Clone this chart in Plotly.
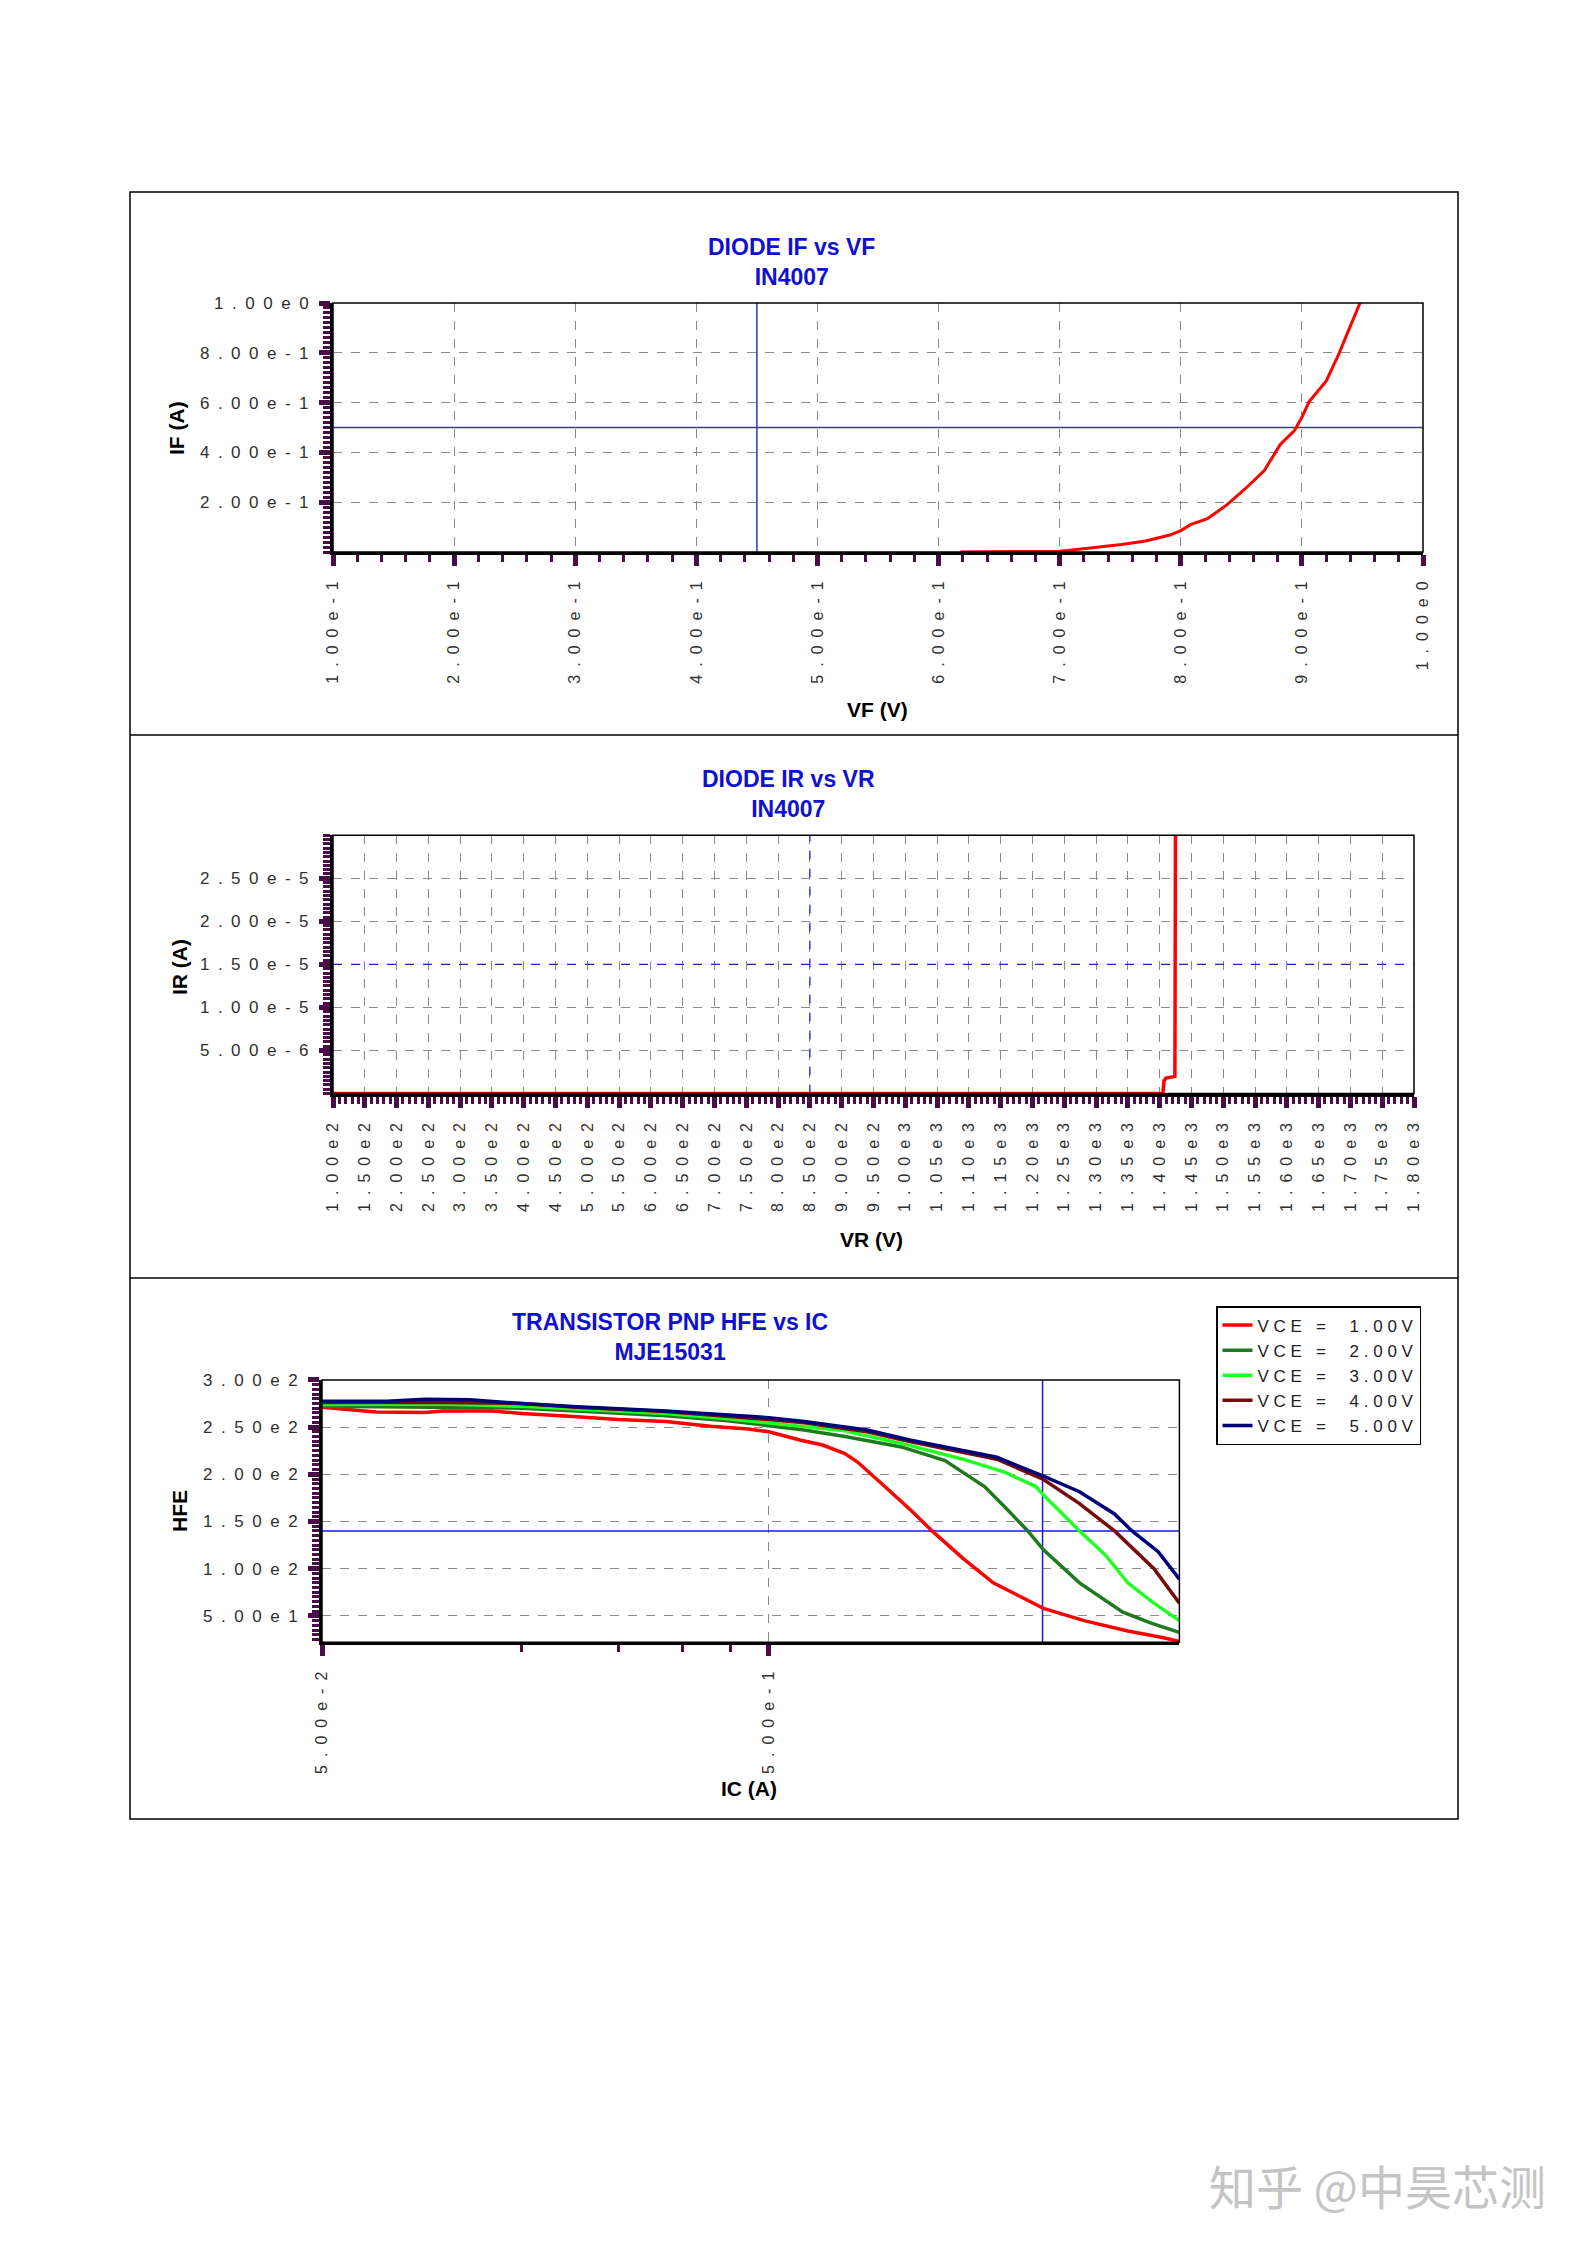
import plotly.graph_objects as go

# ---------------- data ----------------
# Panel 1: diode forward characteristic
vf = [0.618, 0.700, 0.714, 0.731, 0.751, 0.771, 0.791, 0.800, 0.808, 0.822, 0.838,
      0.855, 0.869, 0.882, 0.894, 0.900, 0.906, 0.920, 0.930, 0.940, 0.948]
i_f = [0.0, 0.003, 0.010, 0.019, 0.030, 0.044, 0.068, 0.086, 0.110, 0.134, 0.189,
       0.262, 0.327, 0.431, 0.489, 0.541, 0.604, 0.686, 0.790, 0.907, 1.0]
vf_cursor = 0.45
if_cursor = 0.5

# Panel 2: diode reverse characteristic
vr = [100, 1405, 1407, 1410, 1424, 1425]
i_r = [0.0, 0.0, 1.5e-6, 1.8e-6, 2.0e-6, 3.5e-5]
vr_cursor = 850
ir_cursor = 1.5e-5

# Panel 3: transistor HFE vs IC
ic_1v = [0.05, 0.066, 0.085, 0.093, 0.12, 0.14, 0.186, 0.23, 0.294, 0.37, 0.45, 0.50,
         0.59, 0.66, 0.74, 0.79, 0.89, 1.04, 1.16, 1.36, 1.59, 1.86, 2.06, 2.54, 3.18, 3.80, 4.15]
hfe_1v = [271, 266, 265.5, 267, 267, 264.5, 261, 258, 256, 251, 248, 245,
          236, 231, 222, 213, 191, 162, 140, 111, 85, 69, 58, 45, 34, 27, 23]
ic_2v = [0.05, 0.093, 0.14, 0.186, 0.294, 0.40, 0.50, 0.60, 0.74, 0.99, 1.24, 1.52,
         1.69, 1.90, 2.06, 2.48, 3.10, 3.60, 4.15]
hfe_2v = [272, 271, 270, 267, 262, 257, 252, 247, 240, 229, 214.5, 187,
          165, 140, 120, 85, 54, 42, 32.5]
ic_3v = [0.05, 0.093, 0.14, 0.186, 0.294, 0.40, 0.50, 0.60, 0.74, 0.99, 1.36, 1.69,
         1.98, 2.06, 2.48, 2.84, 3.18, 3.60, 4.15]
hfe_3v = [274, 274.5, 272, 269, 264.5, 259, 254.5, 251, 246, 232.7, 216, 202,
          187, 178, 140, 114, 85, 65, 45]
ic_4v = [0.05, 0.093, 0.14, 0.186, 0.294, 0.40, 0.50, 0.60, 0.83, 1.04, 1.30, 1.62,
         2.06, 2.48, 2.97, 3.64, 4.15]
hfe_4v = [276, 276, 275, 271, 266.5, 262, 258, 254.5, 245, 234.5, 225, 216,
          194.5, 169, 140, 100, 63.5]
ic_5v = [0.05, 0.07, 0.085, 0.107, 0.14, 0.186, 0.294, 0.40, 0.50, 0.60, 0.83, 1.04,
         1.62, 2.06, 2.48, 2.97, 3.25, 3.72, 4.15]
hfe_5v = [277.5, 277.5, 279.5, 279, 275, 271.5, 267, 263, 260, 256, 247, 236,
          218, 198, 181.5, 158, 140, 118, 89]
ic_cursor = 2.05
hfe_cursor = 140

series_names = ["VCE =  1.00V", "VCE =  2.00V", "VCE =  3.00V", "VCE =  4.00V", "VCE =  5.00V"]
series_colors = ["#ff0000", "#1f7a1f", "#22ff22", "#7a0a0a", "#00007a"]

# tick values / labels
p1_xticks = [0.1, 0.2, 0.3, 0.4, 0.5, 0.6, 0.7, 0.8, 0.9, 1.0]
p1_xlabels = ["1.00e-1", "2.00e-1", "3.00e-1", "4.00e-1", "5.00e-1", "6.00e-1",
              "7.00e-1", "8.00e-1", "9.00e-1", "1.00e0"]
p1_yticks = [0.2, 0.4, 0.6, 0.8, 1.0]
p1_ylabels = ["2.00e-1", "4.00e-1", "6.00e-1", "8.00e-1", "1.00e0"]

p2_xticks = [100, 150, 200, 250, 300, 350, 400, 450, 500, 550, 600, 650, 700, 750, 800,
             850, 900, 950, 1000, 1050, 1100, 1150, 1200, 1250, 1300, 1350, 1400, 1450,
             1500, 1550, 1600, 1650, 1700, 1750, 1800]
p2_xlabels = ["1.00e2", "1.50e2", "2.00e2", "2.50e2", "3.00e2", "3.50e2", "4.00e2",
              "4.50e2", "5.00e2", "5.50e2", "6.00e2", "6.50e2", "7.00e2", "7.50e2",
              "8.00e2", "8.50e2", "9.00e2", "9.50e2", "1.00e3", "1.05e3", "1.10e3",
              "1.15e3", "1.20e3", "1.25e3", "1.30e3", "1.35e3", "1.40e3", "1.45e3",
              "1.50e3", "1.55e3", "1.60e3", "1.65e3", "1.70e3", "1.75e3", "1.80e3"]
p2_yticks = [5e-6, 1e-5, 1.5e-5, 2e-5, 2.5e-5]
p2_ylabels = ["5.00e-6", "1.00e-5", "1.50e-5", "2.00e-5", "2.50e-5"]

p3_xticks = [0.05, 0.5]
p3_xlabels = ["5.00e-2", "5.00e-1"]
p3_xminor = [0.14, 0.23, 0.32, 0.41]
p3_yticks = [50, 100, 150, 200, 250, 300]
p3_ylabels = ["5.00e1", "1.00e2", "1.50e2", "2.00e2", "2.50e2", "3.00e2"]

# ---------------- styling helpers ----------------
W, H = 1587, 2245
TICK_C = "#4a0d4a"
TXT_FONT = "Liberation Sans, Arial, sans-serif"
TITLE_FONT = "Liberation Sans Narrow, Arial Narrow, Liberation Sans, Arial, sans-serif"
BLUE = "#1010d0"


def px(x):
    return x / W


def py(y):
    return 1 - y / H


def spaced(s, sep="\u2002"):
    return sep.join("\u00a0" if ch == " " else ch for ch in s)


def axis(**kw):
    d = dict(showline=True, linecolor="black", linewidth=3, mirror=False,
             ticks="outside", ticklen=11, tickwidth=5, tickcolor=TICK_C,
             showgrid=True, gridcolor="#8a8a8a", griddash="dash", gridwidth=1,
             zeroline=False, tickmode="array", fixedrange=True, automargin=False,
             tickfont=dict(family=TXT_FONT, size=16, color="#303030"))
    d.update(kw)
    return d


def xaxis(**kw):
    return axis(ticklabelstandoff=9, tickangle=-90, **kw)


def yaxis(**kw):
    return axis(ticklabelstandoff=7,
                tickfont=dict(family=TXT_FONT, size=17, color="#303030"), **kw)


def minor(**kw):
    d = dict(ticks="outside", ticklen=7, tickwidth=3, tickcolor=TICK_C, showgrid=False)
    d.update(kw)
    return d


fig = go.Figure()

# ---- Panel 1 ----
fig.add_trace(go.Scatter(x=[vf_cursor, vf_cursor], y=[0, 1.0], mode="lines",
                         line=dict(color="#3030d0", width=1.5), showlegend=False,
                         hoverinfo="skip", xaxis="x", yaxis="y"))
fig.add_trace(go.Scatter(x=[0.1, 1.0], y=[if_cursor, if_cursor], mode="lines",
                         line=dict(color="#3030d0", width=1.5), showlegend=False,
                         hoverinfo="skip", xaxis="x", yaxis="y"))
fig.add_trace(go.Scatter(x=vf, y=i_f, mode="lines", line=dict(color="#ff0000", width=3),
                         showlegend=False, xaxis="x", yaxis="y"))

# ---- Panel 2 ----
fig.add_trace(go.Scatter(x=[vr_cursor, vr_cursor], y=[0, 3e-5], mode="lines",
                         line=dict(color="#2020c0", width=1.2, dash="dash"), showlegend=False,
                         hoverinfo="skip", xaxis="x2", yaxis="y2"))
fig.add_trace(go.Scatter(x=[100, 1800], y=[ir_cursor, ir_cursor], mode="lines",
                         line=dict(color="#2020c0", width=1.2, dash="dash"), showlegend=False,
                         hoverinfo="skip", xaxis="x2", yaxis="y2"))
fig.add_trace(go.Scatter(x=vr, y=i_r, mode="lines", line=dict(color="#ff0000", width=3.5),
                         showlegend=False, xaxis="x2", yaxis="y2"))

# ---- Panel 3 ----
fig.add_trace(go.Scatter(x=[ic_cursor, ic_cursor], y=[22, 300], mode="lines",
                         line=dict(color="#1a1ae0", width=1.5), showlegend=False,
                         hoverinfo="skip", xaxis="x3", yaxis="y3"))
fig.add_trace(go.Scatter(x=[0.05, 4.15], y=[hfe_cursor, hfe_cursor], mode="lines",
                         line=dict(color="#1a1ae0", width=1.5), showlegend=False,
                         hoverinfo="skip", xaxis="x3", yaxis="y3"))
ic_all = [ic_1v, ic_2v, ic_3v, ic_4v, ic_5v]
hfe_all = [hfe_1v, hfe_2v, hfe_3v, hfe_4v, hfe_5v]
for name, col, xs, ys in zip(series_names, series_colors, ic_all, hfe_all):
    fig.add_trace(go.Scatter(x=xs, y=ys, mode="lines", name=spaced(name, "\u00a0"),
                             line=dict(color=col, width=3.5), xaxis="x3", yaxis="y3"))

fig.update_layout(
    width=W, height=H, paper_bgcolor="white", plot_bgcolor="white",
    margin=dict(l=0, r=0, t=0, b=0, pad=0, autoexpand=False),
    showlegend=True,
    legend=dict(x=px(1216), y=py(1306), xanchor="left", yanchor="top",
                bgcolor="white", bordercolor="black", borderwidth=1.5,
                font=dict(family=TXT_FONT, size=17, color="#222222"),
                itemwidth=30, tracegroupgap=0),
    xaxis=xaxis(domain=[px(333), px(1423)], range=[0.1, 1.0], anchor="y",
                tickvals=p1_xticks, ticktext=[spaced(s) for s in p1_xlabels],
                minor=minor(tickmode="linear", tick0=0.1, dtick=0.02)),
    yaxis=yaxis(domain=[py(552), py(303)], range=[0, 1.0], anchor="x",
                tickvals=p1_yticks, ticktext=[spaced(s) for s in p1_ylabels],
                minor=minor(tickmode="linear", tick0=0, dtick=0.02)),
    xaxis2=xaxis(domain=[px(333), px(1414)], range=[100, 1800], anchor="y2",
                 tickvals=p2_xticks, ticktext=[spaced(s) for s in p2_xlabels],
                 minor=minor(tickmode="linear", tick0=100, dtick=10)),
    yaxis2=yaxis(domain=[py(1093.6), py(835.2)], range=[0, 3e-5], anchor="x2",
                 tickvals=p2_yticks, ticktext=[spaced(s) for s in p2_ylabels],
                 minor=minor(tickmode="linear", tick0=0, dtick=5e-7)),
    xaxis3=xaxis(domain=[px(322), px(1179.4)], type="log", anchor="y3",
                 range=[-1.30103, 0.61805],
                 tickvals=p3_xticks, ticktext=[spaced(s) for s in p3_xlabels],
                 minor=minor(tickmode="array", tickvals=p3_xminor)),
    yaxis3=yaxis(domain=[py(1642.3), py(1379.9)], range=[22, 300], anchor="x3",
                 tickvals=p3_yticks, ticktext=[spaced(s) for s in p3_ylabels],
                 minor=minor(tickmode="linear", tick0=0, dtick=5)),
)

shapes = []
# outer frame and dividers
shapes.append(dict(type="rect", xref="paper", yref="paper", x0=px(130), x1=px(1458),
                   y0=py(1819), y1=py(192), line=dict(color="black", width=1.5)))
for yy in [735, 1278]:
    shapes.append(dict(type="line", xref="paper", yref="paper", x0=px(130), x1=px(1458),
                       y0=py(yy), y1=py(yy), line=dict(color="black", width=1.5)))
# plot boxes
for ax in ["", "2", "3"]:
    shapes.append(dict(type="rect", xref="x%s domain" % ax, yref="y%s domain" % ax,
                       x0=0, x1=1, y0=0, y1=1, line=dict(color="black", width=1.5)))
fig.update_layout(shapes=shapes)

ann = []


def title(text, x, y):
    ann.append(dict(text=text, x=px(x), y=py(y), xref="paper", yref="paper",
                    xanchor="center", yanchor="middle", showarrow=False, align="center",
                    font=dict(family=TITLE_FONT, size=23, color=BLUE)))


def label(text, x, y, angle=0):
    ann.append(dict(text="<b>%s</b>" % text, x=px(x), y=py(y), xref="paper", yref="paper",
                    xanchor="center", yanchor="middle", showarrow=False, textangle=angle,
                    font=dict(family=TITLE_FONT, size=21, color="black")))


title("<b>DIODE IF vs VF</b><br><b>IN4007</b>", 791, 262)
title("<b>DIODE IR vs VR</b><br><b>IN4007</b>", 788, 794)
title("<b>TRANSISTOR PNP HFE vs IC</b><br><b>MJE15031</b>", 670, 1337)
label("VF (V)", 877, 710)
label("VR (V)", 871, 1239)
label("IC (A)", 749, 1788)
label("IF (A)", 177, 428, -90)
label("IR (A)", 179, 967, -90)
label("HFE", 179, 1511, -90)
ann.append(dict(text="知乎 @中昊芯测", x=px(1377), y=py(2184), xref="paper", yref="paper",
                xanchor="center", yanchor="middle", showarrow=False,
                font=dict(family="Noto Sans CJK SC", size=47, color="#c4c4c4")))
fig.update_layout(annotations=ann)

fig.write_html("out.html")
